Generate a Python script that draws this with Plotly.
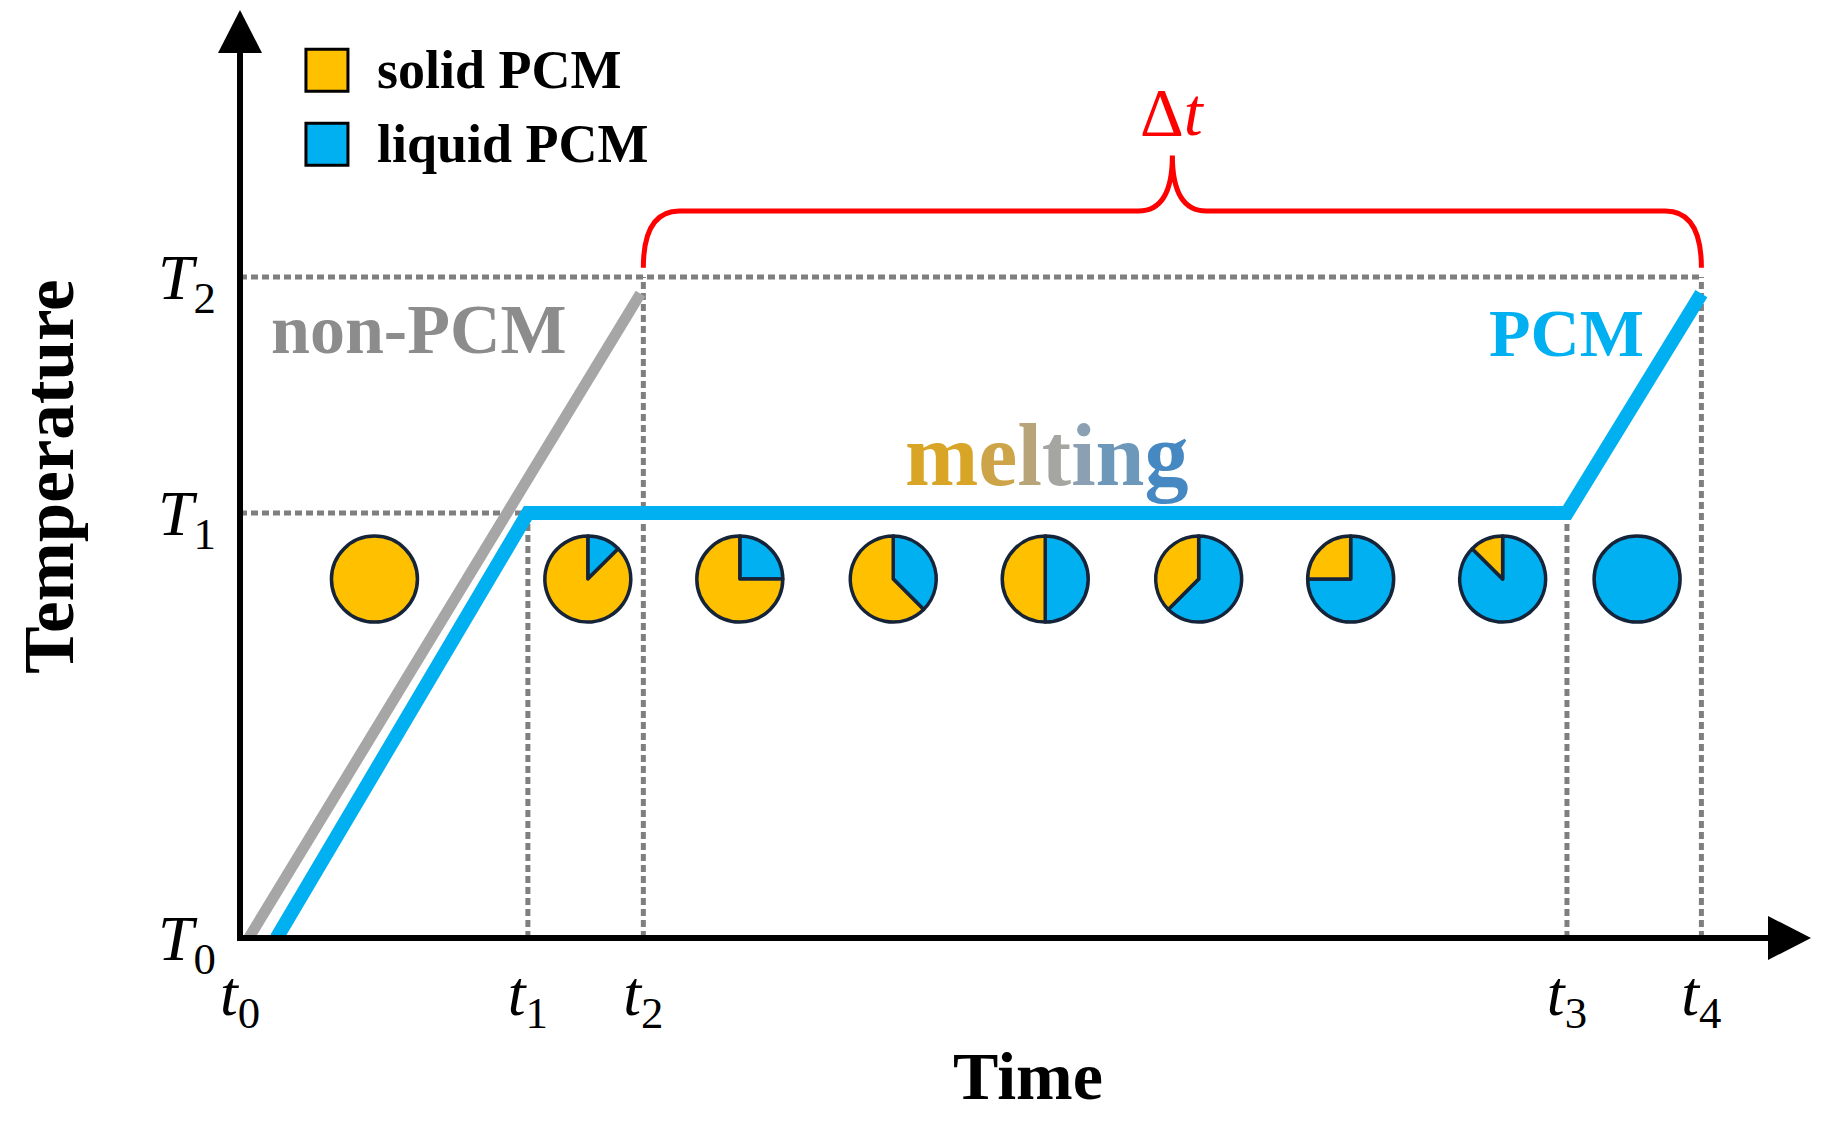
import plotly.graph_objects as go

# time and temperature marks (arbitrary units: t4 = 10, T2 = 10)
time_ticks = [0, 1.97, 2.76, 9.08, 10.0]
time_labels = ["<i>t</i><sub>0</sub>", "<i>t</i><sub>1</sub>", "<i>t</i><sub>2</sub>",
               "<i>t</i><sub>3</sub>", "<i>t</i><sub>4</sub>"]
temp_ticks = [0, 6.43, 10.0]
temp_labels = ["<i>T</i><sub>0</sub>", "<i>T</i><sub>1</sub>", "<i>T</i><sub>2</sub>"]

# heating curves
non_pcm_t = [0.06, 2.74]
non_pcm_T = [0.0, 9.75]
pcm_t = [0.25, 1.97, 9.08, 10.0]
pcm_T = [0.0, 6.43, 6.43, 9.75]

# state of the PCM along the plateau
pie_t = [0.92, 2.38, 3.42, 4.47, 5.51, 6.56, 7.60, 8.64, 9.56]
pie_T = 5.43
liquid_share = [0, 0.125, 0.25, 0.375, 0.5, 0.625, 0.75, 0.875, 1.0]

YELLOW = "#FFC000"
BLUE = "#00B0F0"
GREY = "#A6A6A6"
FONT = "Liberation Serif"

# figure is 16 px smaller than the window because of the page's 8 px body margin
W, H = 1810, 1114
ML, MR, MT, MB = 232, 7, 2, 184
X_RANGE = [0, 10.75]
Y_RANGE = [0, 14.04]
PW, PH = W - ML - MR, H - MT - MB
px_x = PW / (X_RANGE[1] - X_RANGE[0])   # pixels per time unit
px_y = PH / (Y_RANGE[1] - Y_RANGE[0])   # pixels per temperature unit


def to_paper(x, y):
    return ((x - X_RANGE[0]) / (X_RANGE[1] - X_RANGE[0]),
            (y - Y_RANGE[0]) / (Y_RANGE[1] - Y_RANGE[0]))


fig = go.Figure()

fig.add_trace(go.Scatter(x=non_pcm_t, y=non_pcm_T, mode="lines",
                         line=dict(color=GREY, width=11), hoverinfo="skip",
                         showlegend=False))
fig.add_trace(go.Scatter(x=pcm_t, y=pcm_T, mode="lines",
                         line=dict(color=BLUE, width=14), hoverinfo="skip",
                         showlegend=False))

# small pies showing solid / liquid fraction
r = 43
for t, share in zip(pie_t, liquid_share):
    vals, cols = [], []
    if share > 0:
        vals.append(share)
        cols.append(BLUE)
    if share < 1:
        vals.append(1 - share)
        cols.append(YELLOW)
    cx, cy = to_paper(t, pie_T)
    dx, dy = r / PW, r / PH
    fig.add_trace(go.Pie(
        values=vals, sort=False, direction="clockwise", rotation=0,
        marker=dict(colors=cols, line=dict(color="#16243a", width=3.5)),
        textinfo="none", textposition="none", hoverinfo="skip", showlegend=False,
        domain=dict(x=[cx - dx, cx + dx], y=[cy - dy, cy + dy])
    ))

# legend squares
fig.add_trace(go.Scatter(x=[0.595, 0.595], y=[13.13, 12.01], mode="markers",
                         marker=dict(symbol="square", size=42, color=[YELLOW, BLUE],
                                     line=dict(color="black", width=3)),
                         hoverinfo="skip", showlegend=False))

shapes = []
# dotted guide lines
t0, t1, t2, t3, t4 = time_ticks
T0, T1, T2 = temp_ticks
guides = [(0, T2, t4, T2), (0, T1, t1, T1), (t1, 0, t1, T1),
          (t2, 0, t2, T2), (t3, 0, t3, T1), (t4, 0, t4, T2)]
for x0, y0, x1, y1 in guides:
    shapes.append(dict(type="line", x0=x0, y0=y0, x1=x1, y1=y1, xref="x", yref="y",
                       layer="below", line=dict(color="#7F7F7F", width=5, dash="7px,4px")))

# axes with arrow heads (paper refs so they are not clipped)
ah_len, ah_half = 43, 22
lw = 6
shapes.append(dict(type="line", x0=0, y0=-lw / 2 / PH, x1=0, y1=1 - ah_len / PH,
                   xref="paper", yref="paper", line=dict(color="black", width=lw)))
shapes.append(dict(type="line", x0=-lw / 2 / PW, y0=0, x1=1 - ah_len / PW, y1=0,
                   xref="paper", yref="paper", line=dict(color="black", width=lw)))
by = 1 - ah_len / PH
hw = ah_half / PW
shapes.append(dict(type="path", path=f"M {-hw},{by} L 0,1 L {hw},{by} Z",
                   xref="paper", yref="paper", fillcolor="black", line=dict(width=0)))
bx = 1 - ah_len / PW
hh = ah_half / PH
shapes.append(dict(type="path", path=f"M {bx},{-hh} L 1,0 L {bx},{hh} Z",
                   xref="paper", yref="paper", fillcolor="black", line=dict(width=0)))

# brace spanning t2..t4
yb, ym, ytip = T2 + 0.14, T2 + 1.0, T2 + 1.84
xm = (t2 + t4) / 2
cw, cw2 = 36 / px_x, 34 / px_x
brace = (f"M {t2},{yb} Q {t2},{ym} {t2 + cw},{ym} L {xm - cw2},{ym} "
         f"Q {xm},{ym} {xm},{ytip} Q {xm},{ym} {xm + cw2},{ym} "
         f"L {t4 - cw},{ym} Q {t4},{ym} {t4},{yb}")
shapes.append(dict(type="path", path=brace, xref="x", yref="y",
                   line=dict(color="#FF0000", width=5)))

melt_cols = ["#D9A527", "#CDA548", "#B8A479", "#A5A6A2", "#8BA1B3", "#6E98BA", "#4689C2"]
melting = "".join(f"<span style='color:{c}'>{ch}</span>" for ch, c in zip("melting", melt_cols))

bold = "bold"
annotations = [
    dict(x=0.923, y=13.13, text="solid PCM", xanchor="left",
         font=dict(size=54, color="black", weight=bold)),
    dict(x=0.923, y=12.01, text="liquid PCM", xanchor="left",
         font=dict(size=54, color="black", weight=bold)),
    dict(x=0.2, y=9.2, text="non-PCM", xanchor="left",
         font=dict(size=70, color="#8C8C8C", weight=bold)),
    dict(x=9.62, y=9.15, text="PCM", xanchor="right",
         font=dict(size=68, color=BLUE, weight=bold)),
    dict(x=5.52, y=7.3, text=melting, font=dict(size=88, weight=bold)),
    dict(x=xm, y=12.5, text="Δ<i>t</i>", font=dict(size=68, color="#FF0000")),
    dict(x=-0.1216, y=0.497, xref="paper", yref="paper", text="Temperature",
         textangle=-90, font=dict(size=71, color="black", weight=bold)),
    dict(x=0.5016, y=-0.149, xref="paper", yref="paper", text="Time",
         font=dict(size=68, color="black", weight=bold)),
]
for a in annotations:
    a.setdefault("xref", "x")
    a.setdefault("yref", "y")
    a.setdefault("xanchor", "center")
    a["yanchor"] = "middle"
    a["showarrow"] = False

fig.update_layout(
    width=W, height=H,
    margin=dict(l=ML, r=MR, t=MT, b=MB),
    plot_bgcolor="white", paper_bgcolor="white",
    font=dict(family=FONT, color="black"),
    shapes=shapes, annotations=annotations,
)
fig.update_xaxes(range=X_RANGE, tickvals=time_ticks, ticktext=time_labels,
                 tickfont=dict(size=64, family=FONT), ticks="", ticklabelstandoff=12,
                 showgrid=False, zeroline=False, showline=False)
fig.update_yaxes(range=Y_RANGE, tickvals=temp_ticks, ticktext=temp_labels,
                 tickfont=dict(size=64, family=FONT), ticks="", ticklabelstandoff=23,
                 showgrid=False, zeroline=False, showline=False)

fig.write_html("out.html")
